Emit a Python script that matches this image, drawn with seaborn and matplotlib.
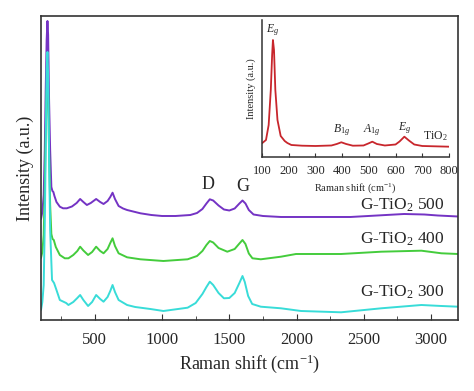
import numpy as np
import matplotlib
matplotlib.use("Agg")
import matplotlib.pyplot as plt
from matplotlib.ticker import MultipleLocator
import seaborn as sns
import pandas as pd

# main spectra (Raman shift in cm-1, intensity a.u.)
x500 = [100, 110, 120, 128, 135, 142, 148, 153, 160, 168, 177, 185, 192, 200, 215, 240, 264, 292, 330, 365,
        391, 415, 441, 470, 510, 540, 565, 595, 615, 632, 650, 677, 710, 740, 839, 920, 1000, 1100, 1210,
        1260, 1300, 1330, 1355, 1380, 1420, 1460, 1500, 1540, 1575, 1598, 1620, 1645, 1680, 1750, 1884,
        2100, 2400, 2600, 2800, 2950, 3050, 3200]
y500 = [101, 108, 125, 170, 230, 280, 299, 285, 220, 170, 133, 129, 128, 124, 118, 113.3, 111.7, 111.7, 113.5, 117,
        121, 118, 115, 117, 121, 118, 116, 119, 123, 127.3, 121, 114, 111.5, 110, 106.7, 105, 104, 104, 105,
        107, 111, 116.5, 120.7, 119.5, 114.5, 110.5, 109.5, 111.5, 116.5, 119.5, 116.5, 110, 105.5, 104, 103,
        103, 103, 104.5, 106, 105.5, 104.5, 103.5]

x400 = [100, 110, 120, 128, 135, 142, 148, 153, 160, 168, 177, 186, 195, 210, 240, 277, 304, 340, 370, 391,
        415, 450, 480, 510, 540, 565, 595, 615, 632, 650, 677, 740, 839, 1010, 1190, 1260, 1300, 1330, 1355,
        1380, 1420, 1485, 1540, 1575, 1598, 1620, 1645, 1672, 1734, 1884, 1996, 2331, 2630, 2928, 3077, 3200]
y400 = [62, 68, 85, 130, 185, 228, 240, 230, 170, 115, 86, 81, 80, 73, 65, 61.7, 61.7, 65, 69, 73.3,
        69.5, 65, 68, 73.3, 69, 66.7, 71, 77, 81.7, 74, 66.7, 62.7, 60.7, 59, 60.7, 64, 69, 75, 79,
        77.5, 72, 68.3, 71, 76.5, 80, 76, 66.5, 61.7, 60.7, 63.3, 66, 66, 68.3, 69.3, 66.7, 66]

x300 = [100, 110, 120, 128, 135, 142, 148, 153, 160, 168, 182, 197, 215, 240, 287, 304, 340, 370, 391, 415,
        450, 480, 510, 540, 565, 595, 615, 632, 650, 677, 740, 800, 913, 1010, 1190, 1250, 1300, 1330, 1355,
        1380, 1420, 1460, 1500, 1540, 1575, 1598, 1615, 1640, 1670, 1734, 1884, 2033, 2331, 2630, 2928,
        3077, 3200]
y300 = [10, 18, 35, 95, 170, 250, 268, 245, 165, 90, 40, 37, 30, 20, 17, 15, 18, 22, 25, 20,
        14, 18, 25, 21, 18.3, 23, 29, 35, 28, 20, 15, 13, 11, 9, 12.3, 17, 26, 33, 38.3,
        35, 27, 21.7, 22, 27, 37, 44, 38, 24, 16, 13.3, 11.7, 9, 7.7, 11.7, 15,
        14, 13.3]

# inset: pure TiO2
x_tio2 = [100, 115, 125, 133, 138, 141, 145, 150, 158, 170, 185, 195, 210, 250, 300, 360, 380, 397, 415, 440,
          480, 498, 513, 530, 560, 600, 615, 633, 650, 670, 700, 800]
y_tio2 = [13.7, 17, 32, 67, 102, 117, 107, 67, 37, 21, 16, 14, 12, 11.3, 11, 11.5, 13, 14.7, 13, 11.3,
          11.5, 13.5, 15.3, 13, 11.5, 12.5, 15.5, 20.3, 16.5, 12.5, 11, 10.3]

sample_labels = ["G-TiO$_2$ 500", "G-TiO$_2$ 400", "G-TiO$_2$ 300"]
colors = ["#7433c4", "#44cc3c", "#38dcd8"]

sns.set_style("ticks")
plt.rcParams['font.family'] = ['Liberation Serif', 'DejaVu Serif']
plt.rcParams['mathtext.fontset'] = 'custom'
plt.rcParams['mathtext.rm'] = 'Liberation Serif'
plt.rcParams['mathtext.it'] = 'Liberation Serif:italic'

fig = plt.figure(figsize=(4.74, 3.91), dpi=100)
ax = fig.add_axes([0.0865, 0.1816, 0.8797, 0.7775])

for xs, ys, c in zip([x500, x400, x300], [y500, y400, y300], colors):
    df = pd.DataFrame({'shift': xs, 'intensity': ys})
    sns.lineplot(data=df, x='shift', y='intensity', color=c, lw=1.4, ax=ax)

ax.set_xlim(100, 3200)
ax.set_ylim(0, 304)
ax.set_yticks([])
ax.set_xticks([500, 1000, 1500, 2000, 2500, 3000])
ax.xaxis.set_minor_locator(MultipleLocator(250))
ax.tick_params(axis='x', which='both', direction='in', labelsize=12, color='#333333', pad=9)
ax.tick_params(axis='x', which='major', length=4)
ax.tick_params(axis='x', which='minor', length=3)
for s in ax.spines.values():
    s.set_color('#333333')
    s.set_linewidth(1.2)
ax.set_xlabel("Raman shift (cm$^{-1}$)", fontsize=13, labelpad=3)
ax.set_ylabel("Intensity (a.u.)", fontsize=13, labelpad=5)

ax.text(1340, 135, "D", fontsize=13, ha='center', va='center')
ax.text(1598, 133, "G", fontsize=13, ha='center', va='center')
for lab, yy in zip(sample_labels, [115, 81, 28]):
    ax.text(3100, yy, lab, fontsize=12.5, ha='right', va='center')

# inset
axi = fig.add_axes([0.5527, 0.5985, 0.3945, 0.3504])
dfi = pd.DataFrame({'shift': x_tio2, 'intensity': y_tio2})
sns.lineplot(data=dfi, x='shift', y='intensity', color="#c8262c", lw=1.3, ax=axi)
axi.set_xlim(100, 800)
axi.set_ylim(0, 137)
axi.set_yticks([])
axi.set_xticks(range(100, 801, 100))
axi.tick_params(axis='x', direction='in', length=3, labelsize=9, pad=6, color='#333333')
for side in ['top', 'right']:
    axi.spines[side].set_visible(False)
for side in ['left', 'bottom']:
    axi.spines[side].set_color('#333333')
    axi.spines[side].set_linewidth(1.1)
axi.patch.set_alpha(0)
axi.set_xlabel("Raman shift (cm$^{-1}$)", fontsize=7.5, labelpad=3)
axi.set_ylabel("Intensity (a.u.)", fontsize=7.5, labelpad=4)

axi.text(141, 127, "$E_g$", fontsize=8.5, ha='center', va='center')
axi.text(397, 27, "$B_{1g}$", fontsize=8.5, ha='center', va='center')
axi.text(513, 27, "$A_{1g}$", fontsize=8.5, ha='center', va='center')
axi.text(633, 29, "$E_g$", fontsize=8.5, ha='center', va='center')
axi.text(750, 21, "TiO$_2$", fontsize=8.5, ha='center', va='center')

fig.savefig("out.png", dpi=100)
